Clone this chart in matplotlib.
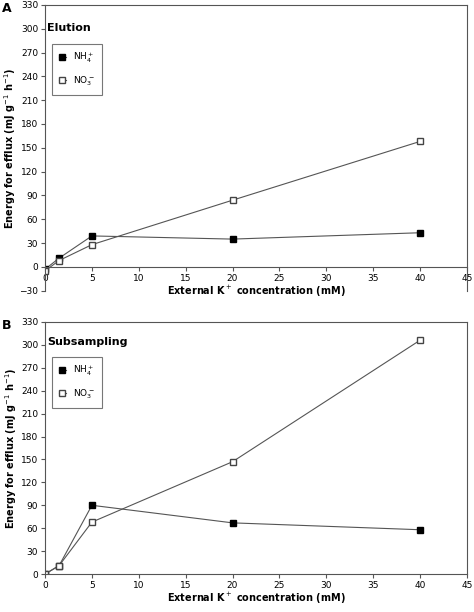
import matplotlib
matplotlib.use("Agg")
import matplotlib.pyplot as plt

x = [0, 1.5, 5, 20, 40]
a_nh4 = [-3, 11, 39, 35, 43]
a_no3 = [-5, 8, 28, 84, 158]
b_nh4 = [0, 11, 90, 67, 58]
b_no3 = [0, 11, 68, 147, 306]

fig = plt.figure(figsize=(4.74, 6.12), dpi=100)
panels = [
    ("A", "Elution", a_nh4, a_no3, [0.095, 0.525, 0.89, 0.467], -30),
    ("B", "Subsampling", b_nh4, b_no3, [0.095, 0.062, 0.89, 0.412], 0),
]
for lab, title, nh4, no3, rect, ymin in panels:
    ax = fig.add_axes(rect)
    l1, = ax.plot(x, nh4, "-s", color="#555555", lw=0.8, ms=4,
                  mfc="black", mec="black", label="NH$_4^+$")
    l2, = ax.plot(x, no3, "-s", color="#555555", lw=0.8, ms=4,
                  mfc="white", mec="#444444", label="NO$_3^-$")
    ax.set_xlim(0, 45)
    ax.set_ylim(ymin, 330)
    ax.set_xticks(range(0, 46, 5))
    ax.set_yticks(range(ymin, 331, 30))
    ax.spines["bottom"].set_position(("data", 0))
    for s in ax.spines.values():
        s.set_color("#555555")
        s.set_linewidth(0.8)
    ax.tick_params(labelsize=6.5, length=3, pad=2, color="#555555")
    ax.set_xlabel("External K$^+$ concentration (mM)", fontsize=7,
                  weight="bold", labelpad=1)
    ax.set_ylabel("Energy for efflux (mJ g$^{-1}$ h$^{-1}$)", fontsize=7,
                  weight="bold", labelpad=1)
    leg = ax.legend(handles=[l1, l2], loc="upper left",
                    bbox_to_anchor=(0.005, 0.88), fontsize=6.5,
                    fancybox=False, edgecolor="#555555", handlelength=0.8,
                    labelspacing=1.0, borderpad=0.8)
    leg.get_frame().set_linewidth(0.8)
    ax.text(0.005, 0.9, title, transform=ax.transAxes, fontsize=8,
            weight="bold", va="bottom")
    fig.text(0.005, rect[1] + rect[3] - 0.012, lab, fontsize=9, weight="bold")

fig.savefig("out.png", dpi=100, facecolor="white")
